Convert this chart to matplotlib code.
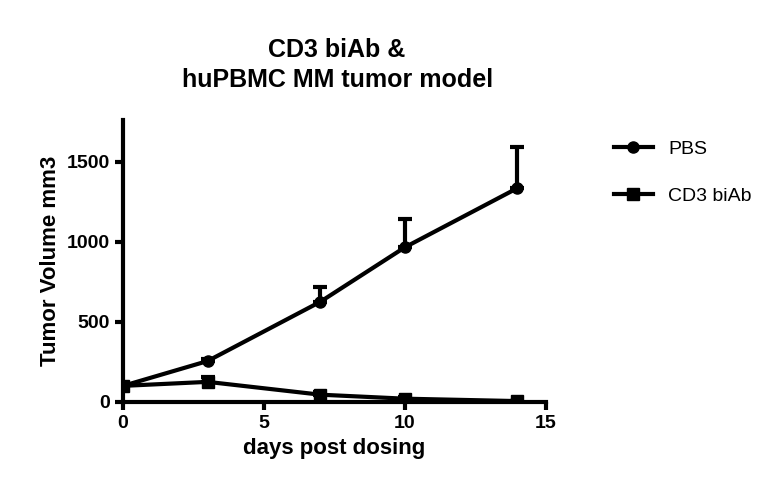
import matplotlib
matplotlib.use("Agg")
import matplotlib.pyplot as plt
from matplotlib.lines import Line2D

plt.rcParams['font.family'] = ['Liberation Sans', 'DejaVu Sans']
days = [0, 3, 7, 10, 14]
pbs = [100, 255, 625, 965, 1335]
pbs_err = [10, 15, 95, 175, 255]
cd3 = [100, 125, 45, 20, 5]
cd3_err = [10, 30, 15, 8, 3]

fig = plt.figure(figsize=(7.84, 4.98), dpi=100)
ax = fig.add_axes([0.157, 0.193, 0.539, 0.566])
ax.errorbar(days, pbs, yerr=[[0]*5, pbs_err], color='black', lw=3, marker='o', ms=8,
            capsize=5, elinewidth=3, capthick=3)
ax.errorbar(days, cd3, yerr=[[0]*5, cd3_err], color='black', lw=3, marker='s', ms=8,
            capsize=5, elinewidth=3, capthick=3)
ax.set_xlim(0, 15)
ax.set_ylim(0, 1760)
ax.set_xticks([0, 5, 10, 15])
ax.set_yticks([0, 500, 1000, 1500])
for s in ['top', 'right']:
    ax.spines[s].set_visible(False)
for s in ['left', 'bottom']:
    ax.spines[s].set_linewidth(3)
ax.tick_params(width=3, length=6, labelsize=14)
for lab in ax.get_xticklabels() + ax.get_yticklabels():
    lab.set_fontweight('bold')
ax.set_xlabel('days post dosing', fontsize=16, fontweight='bold')
ax.set_ylabel('Tumor Volume mm3', fontsize=16, fontweight='bold')
fig.text(0.43, 0.87, 'CD3 biAb &\nhuPBMC MM tumor model', fontsize=18, fontweight='bold',
         ha='center', va='center', linespacing=1.3)
handles = [Line2D([], [], color='black', lw=3, marker='o', ms=8),
           Line2D([], [], color='black', lw=3, marker='s', ms=8)]
ax.legend(handles, ['PBS', 'CD3 biAb'], loc='upper left', bbox_to_anchor=(1.12, 0.99),
          frameon=False, fontsize=14, handlelength=2, labelspacing=1.5)
fig.savefig('out.png', dpi=100)
